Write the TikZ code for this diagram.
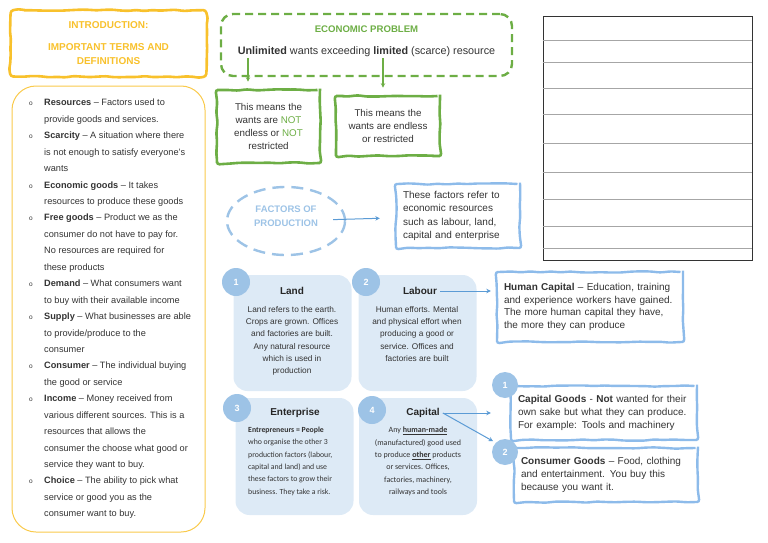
\documentclass[tikz,border=0pt]{standalone}
\usepackage{fontspec}
\setmainfont{Liberation Sans}
\newfontfamily\calibrifont{Carlito}
\usepackage{xcolor}
\definecolor{introyellow}{HTML}{F8C12C}
\definecolor{econgreen}{HTML}{6DAE45}
\definecolor{factorblue}{HTML}{9DC3E6}
\definecolor{outlineblue}{HTML}{8DBBEA}
\definecolor{arrowblue}{HTML}{5B9BD5}
\definecolor{tilefill}{HTML}{DDEAF6}
\definecolor{textgray}{HTML}{333333}
\usetikzlibrary{calc,arrows.meta,positioning,shapes.geometric,decorations.pathmorphing}

\tikzset{
  wobbly/.style={decorate, decoration={random steps, segment length=10pt, amplitude=0.7pt}, rounded corners=2.5pt},
  introbox/.style={text=introyellow, font=\fontsize{10}{14}\selectfont\bfseries, align=center, minimum width=196pt, minimum height=66pt},
  introline/.style={draw=introyellow, line width=2.6pt, decorate, decoration={random steps, segment length=8pt, amplitude=0.8pt}, rounded corners=2.5pt},
  termframe/.style={draw=introyellow!85, line width=1pt, rounded corners=24pt, minimum width=193pt, minimum height=446pt},
  termtext/.style={anchor=north west, inner sep=0pt, align=left, text=textgray, font=\fontsize{9.2}{16.44}\selectfont},
  econbox/.style={draw=econgreen, line width=2.4pt, dash pattern=on 8pt off 5pt, rounded corners=12pt,
    minimum width=291pt, minimum height=62pt, align=center, text=textgray, font=\fontsize{10.8}{13}\selectfont},
  wantbox/.style={draw=econgreen, line width=2.6pt, wobbly, align=center, text=textgray, font=\fontsize{9.8}{13}\selectfont},
  econarrow/.style={->, econgreen, line width=1.3pt, shorten >=7pt},
  factors/.style={ellipse, draw=factorblue, line width=2.4pt, dash pattern=on 12pt off 7pt, inner sep=0pt,
    text=factorblue, font=\fontsize{9.5}{14}\selectfont\bfseries, align=center, minimum width=118pt, minimum height=68pt},
  bluebox/.style={draw=outlineblue, line width=2.4pt, wobbly, align=left, text=textgray, inner xsep=7pt},
  bluearrow/.style={->, arrowblue, line width=1pt},
  tile/.style={fill=tilefill, rounded corners=14pt, minimum width=118pt},
  numdot/.style={circle, fill=factorblue, text=white, font=\fontsize{9}{9}\selectfont\bfseries, minimum size=28pt, inner sep=0pt},
  tiletitle/.style={font=\fontsize{10}{11}\selectfont\bfseries, text=black!85, inner sep=3pt},
  tilebody/.style={anchor=north, align=center, inner sep=0pt, text=textgray, font=\fontsize{8.3}{12.3}\selectfont},
  noteline/.style={gray!70, line width=0.7pt}
}
\newcommand\termbullet{\llap{{\fontsize{6.5}{6.5}\selectfont o}\hspace{11.5pt}}}

\begin{document}
\pgfmathsetseed{11}
\begin{tikzpicture}[x=1pt, y=-1pt, >={Stealth[length=4.5pt,width=4.5pt]}]
    \useasboundingbox (0,0) rectangle (768,543);

    % Introduction heading and list of terms
    \node[introbox] (Intro) at (108.5,43.5) {INTRODUCTION:\\[8pt]IMPORTANT TERMS AND\\DEFINITIONS};
    \draw[introline] ($(Intro.north west)+(11,0)$) -- ($(Intro.north east)+(-11,0)$)
      arc[start angle=90, end angle=0, radius=11pt] -- ($(Intro.south east)+(0,-11)$)
      arc[start angle=0, end angle=-90, radius=11pt] -- ($(Intro.south west)+(11,0)$)
      arc[start angle=-90, end angle=-180, radius=11pt] -- ($(Intro.north west)+(0,11)$)
      arc[start angle=180, end angle=90, radius=11pt] -- cycle;
    \node[termframe] (Terms) at (108.5,309) {};
    \node[termtext] (TermList) at (44,99) {%
      \termbullet\textbf{Resources} -- Factors used to\\
      provide goods and services.\\
      \termbullet\textbf{Scarcity} -- A situation where there\\
      is not enough to satisfy everyone's\\
      wants\\
      \termbullet\textbf{Economic goods} -- It takes\\
      resources to produce these goods\\
      \termbullet\textbf{Free goods} -- Product we as the\\
      consumer do not have to pay for.\\
      No resources are required for\\
      these products\\
      \termbullet\textbf{Demand} -- What consumers want\\
      to buy with their available income\\
      \termbullet\textbf{Supply} -- What businesses are able\\
      to provide/produce to the\\
      consumer\\
      \termbullet\textbf{Consumer} -- The individual buying\\
      the good or service\\
      \termbullet\textbf{Income} -- Money received from\\
      various different sources. This is a\\
      resources that allows the\\
      consumer the choose what good or\\
      service they want to buy.\\
      \termbullet\textbf{Choice} -- The ability to pick what\\
      service or good you as the\\
      consumer want to buy.};

    % Economic problem
    \node[econbox] (Econ) at (366.5,45) {{\color{econgreen}\fontsize{9.6}{12}\selectfont\bfseries ECONOMIC PROBLEM}\\[8.3pt]
      \textbf{Unlimited} wants exceeding \textbf{limited} (scarce) resource\rule[-10pt]{0pt}{10pt}};
    \node[wantbox, minimum width=103pt, minimum height=73pt] (WantsNot) at (268.5,126.5)
      {This means the\\wants are \textcolor{econgreen}{NOT}\\endless or \textcolor{econgreen}{NOT}\\restricted};
    \node[wantbox, minimum width=104pt, minimum height=60pt] (WantsEndless) at (388,126)
      {This means the\\wants are endless\\or restricted};
    \coordinate (Unlimited) at (248,58);
    \coordinate (Limited) at (383,58);
    \draw[econarrow] (Unlimited) -- (Unlimited |- WantsNot.north);
    \draw[econarrow] (Limited) -- (Limited |- WantsEndless.north);

    % Lined notes box
    \node[draw=black!80, line width=0.8pt, minimum width=209pt, minimum height=244pt, inner sep=0pt] (Notes) at (647.5,138) {};
    \foreach \ly in {40,62,88,114,143,172,199,226,248}
      \draw[noteline] (Notes.west |- 0,\ly) -- (Notes.east |- 0,\ly);

    % Factors of production
    \node[factors] (Factors) at (286,221) {FACTORS OF\\PRODUCTION\rule[-10pt]{0pt}{10pt}};
    \node[bluebox, text width=110pt, minimum height=64pt, font=\fontsize{10}{13.3}\selectfont] (FactorsNote) at (458,216)
      {These factors refer to\\economic resources\\such as labour, land,\\capital and enterprise};
    \draw[bluearrow, shorten <=-13pt, shorten >=15pt] (Factors) -- (FactorsNote);

    % The four factors
    \node[tile, minimum height=116pt] (Land) at (292.5,333) {};
    \node[tile, minimum height=116pt] (Labour) at (417.5,333) {};
    \node[tile, minimum height=117pt] (Enterprise) at (294.5,456.5) {};
    \node[tile, minimum height=117pt] (Capital) at (418,456.5) {};
    \node[numdot] (LandNum) at (236,282) {1};
    \node[numdot] (LabourNum) at (366,282) {2};
    \node[numdot] (EnterpriseNum) at (237,408) {3};
    \node[numdot] (CapitalNum) at (372,410) {4};
    \node[tiletitle] (LandTitle) at (292,291) {Land};
    \node[tiletitle] (LabourTitle) at (420,291) {Labour};
    \node[tiletitle] (EnterpriseTitle) at (295,413) {Enterprise};
    \node[tiletitle] (CapitalTitle) at (423,413) {Capital};
    \node[tilebody] (LandBody) at (292,306) {Land refers to the earth.\\Crops are grown. Offices\\and factories are built.\\Any natural resource\\which is used in\\production};
    \node[tilebody] (LabourBody) at (417,306) {Human efforts. Mental\\and physical effort when\\producing a good or\\service. Offices and\\factories are built};
    \node[tilebody, anchor=north west, align=left, font=\calibrifont\fontsize{7.8}{12.3}\selectfont] (EnterpriseBody) at (248,427)
      {\textbf{Entrepreneurs = People}\\who organise the other 3\\production factors (labour,\\capital and land) and use\\these factors to grow their\\business. They take a risk.};
    \node[tilebody, font=\calibrifont\fontsize{8}{12.3}\selectfont] (CapitalBody) at (418,427)
      {Any \underline{\textbf{human-made}}\\(manufactured) good used\\to produce \underline{\textbf{other}} products\\or services. Offices,\\factories, machinery,\\railways and tools};

    % Human capital
    \node[bluebox, text width=172pt, minimum height=70pt, font=\fontsize{10}{12.7}\selectfont] (HumanCapital) at (590,307)
      {\textbf{Human Capital} -- Education, training\\and experience workers have gained.\\The more human capital they have,\\the more they can produce};
    \draw[bluearrow, shorten >=5pt] (LabourTitle.east) -- (LabourTitle.east -| HumanCapital.west);

    % Capital and consumer goods
    \node[bluebox, text width=172pt, minimum height=54pt, font=\fontsize{10}{12.7}\selectfont] (CapGoods) at (604,413)
      {\textbf{Capital Goods} - \textbf{Not} wanted for their\\own sake but what they can produce.\\For example: Tools and machinery};
    \node[bluebox, text width=170pt, minimum height=54pt, font=\fontsize{10}{12.7}\selectfont] (ConsGoods) at (606,475)
      {\textbf{Consumer Goods} -- Food, clothing\\and entertainment. You buy this\\because you want it.};
    \node[numdot, minimum size=26pt] (CapGoodsNum) at (505,385) {1};
    \node[numdot, minimum size=26pt] (ConsGoodsNum) at (505,452) {2};
    \draw[bluearrow, shorten >=19pt] (CapitalTitle.east) -- (CapitalTitle.east -| CapGoods.west);
    \draw[bluearrow, shorten >=3pt] (CapitalTitle.east) -- (ConsGoodsNum.north west);
\end{tikzpicture}
\end{document}
